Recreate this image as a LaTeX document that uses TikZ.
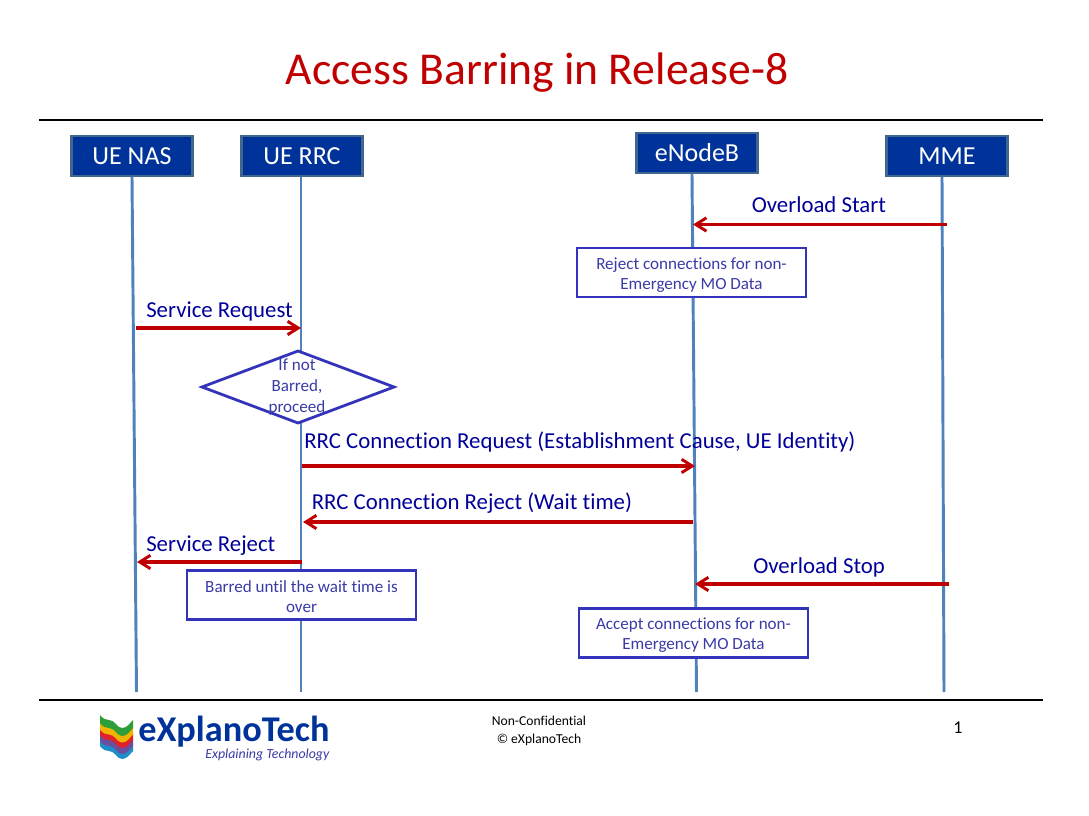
\documentclass[tikz,border=0pt]{standalone}
\usepackage{fontspec}
\setmainfont[Ligatures=NoCommon]{Carlito}
\usetikzlibrary{arrows.meta,shapes.geometric}
\definecolor{hdrfill}{HTML}{003399}
\definecolor{hdredge}{HTML}{41678F}
\definecolor{life}{HTML}{4F81BD}
\definecolor{msg}{HTML}{C00000}
\definecolor{lbl}{HTML}{000099}
\definecolor{boxedge}{HTML}{3333BB}
\definecolor{boxtext}{HTML}{3B3BA8}
\definecolor{bandA}{HTML}{2E9E3A}
\definecolor{bandB}{HTML}{F0B400}
\definecolor{bandC}{HTML}{E0202A}
\definecolor{bandD}{HTML}{6A4FA0}
\definecolor{bandE}{HTML}{1C8FC8}
\tikzset{
 hdr/.style={draw=hdredge,line width=2.2pt,fill=hdrfill,text=white,minimum width=121.5*0.75pt,minimum height=40*0.75pt,inner sep=0pt,font=\fontsize{19.5}{22}\selectfont},
 lifeline/.style={draw=life,line width=2.2pt},
 msgline/.style={draw=msg,line width=2.6pt,-{Straight Barb[length=8pt,width=10pt,line width=2.2pt]}},
 msglabel/.style={text=lbl,inner sep=0pt,anchor=base west,font=\fontsize{17.1}{20}\selectfont},
 notebox/.style={draw=boxedge,line width=2.1pt,fill=white,text=boxtext,align=center,inner sep=0pt,font=\fontsize{12.8}{15}\selectfont},
 rule/.style={draw=black,line width=1.3pt},
}
\begin{document}
\begin{tikzpicture}[x=0.75pt,y=-0.75pt]
\useasboundingbox (0,0) rectangle (1089,816);
\fill[white] (0,0) rectangle (1089,816);
\node[text=msg,inner sep=0pt,font=\fontsize{34.2}{40}\selectfont] (title) at (537,72.5) {Access Barring in Release-8};
\coordinate (rtl) at (39,120); \coordinate (rtr) at (1043,120);
\coordinate (rbl) at (39,700); \coordinate (rbr) at (1043,700);
\draw[rule] (rtl) -- (rtr);
\draw[rule] (rbl) -- (rbr);
\coordinate (endnas) at (136.5,692);
\coordinate (endrrc) at (301,692);
\coordinate (endenb) at (696.5,692);
\coordinate (endmme) at (944,692);
\node[hdr] (nas) at (132,156) {UE NAS};
\node[hdr] (rrc) at (302,156) {UE RRC};
\node[hdr] (enb) at (697,153) {eNodeB};
\node[hdr] (mme) at (947,156) {MME};
\draw[lifeline] (132,177) -- (endnas);
\draw[lifeline] (301,177) -- (endrrc);
\draw[lifeline] (692,174) -- (endenb);
\draw[lifeline] (942,177) -- (endmme);
\coordinate (m1a) at (947,224.5); \coordinate (m1b) at (693,224.5);
\coordinate (m2a) at (136,328); \coordinate (m2b) at (301,328);
\coordinate (m3a) at (302,466); \coordinate (m3b) at (695,466);
\coordinate (m4a) at (693,522); \coordinate (m4b) at (303,522);
\coordinate (m5a) at (302,562); \coordinate (m5b) at (137,562);
\coordinate (m6a) at (949,584); \coordinate (m6b) at (695,584);
\draw[msgline] (m1a) -- (m1b);
\draw[msgline] (m2a) -- (m2b);
\draw[msgline] (m3a) -- (m3b);
\draw[msgline] (m4a) -- (m4b);
\draw[msgline] (m5a) -- (m5b);
\draw[msgline] (m6a) -- (m6b);
\node[msglabel] (l1) at (751.5,213) {Overload Start};
\node[msglabel] (l2) at (146,318) {Service Request};
\node[msglabel] (l3) at (304,449) {RRC Connection Request (Establishment Cause, UE Identity)};
\node[msglabel] (l4) at (311.5,509.5) {RRC Connection Reject (Wait time)};
\node[msglabel] (l5) at (146,551.5) {Service Reject};
\node[msglabel] (l6) at (753,573) {Overload Stop};
\node[notebox,minimum width=229*0.75pt,minimum height=49*0.75pt] (n1) at (691.5,272.5) {\rule{0pt}{12pt}Reject connections for non-\\Emergency MO Data};
\node[notebox,minimum width=229*0.75pt,minimum height=49*0.75pt] (n2) at (301.5,595) {\rule{0pt}{12pt}Barred until the wait time is\\over};
\node[notebox,minimum width=229*0.75pt,minimum height=49*0.75pt] (n3) at (693.5,633) {\rule{0pt}{12pt}Accept connections for non-\\Emergency MO Data};
\coordinate (dt) at (298,351); \coordinate (dr) at (394,387); \coordinate (db) at (298,423); \coordinate (dl) at (202,387);
\draw[draw=boxedge,line width=2.1pt,fill=white,line join=miter] (dt) -- (dr) -- (db) -- (dl) -- cycle;
\node[text=boxtext,align=center,inner sep=0pt,font=\fontsize{12.8}{15.5}\selectfont] (d) at (297,387) {If not\\Barred,\\proceed};
\node[inner sep=0pt,align=center,font=\fontsize{10.2}{13}\selectfont] (foot) at (539,731) {Non-Confidential\\© eXplanoTech};
\node[inner sep=0pt,font=\fontsize{13.5}{15}\selectfont] (page) at (958,727.5) {1};
% logo: five stacked wave bands
\foreach \c/\s/\h in {bandE/25/6,bandD/19/7,bandC/13/7,bandB/6.5/8,bandA/0/8}{
 \fill[\c,shift={(0,\s)}] (100,715) .. controls (103,719) and (106,720) .. (109,720) .. controls (115,720) and (117,728) .. (122,728) .. controls (127,728) and (129,724) .. (133,720)
  -- (133,720+\h) .. controls (129,724+\h) and (127,728+\h) .. (122,728+\h) .. controls (117,728+\h) and (115,720+\h) .. (109,720+\h) .. controls (106,720+\h) and (103,719+\h) .. (100,715+\h) -- cycle;
}
\node[inner sep=0pt,anchor=base west,text=hdrfill,text depth=0pt,font=\bfseries\fontsize{27.2}{30}\selectfont] (logo) at (138,741) {eXplanoTech};
\node[inner sep=0pt,anchor=base west,text=boxtext,font=\itshape\fontsize{10.4}{12}\selectfont] (tag) at (205,758) {Explaining Technology};
\end{tikzpicture}
\end{document}
